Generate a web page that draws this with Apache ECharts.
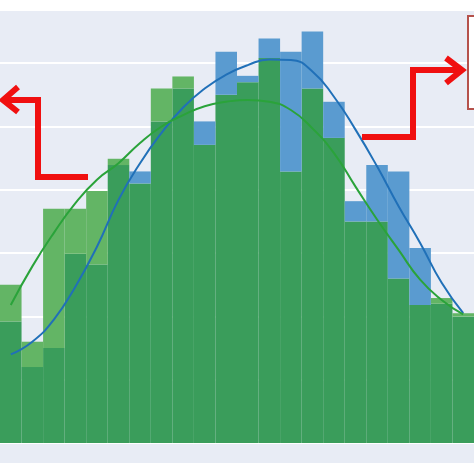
<!DOCTYPE html>
<html>
<head>
<meta charset="utf-8">
<script src="https://cdn.jsdelivr.net/npm/echarts@6/dist/echarts.min.js"></script>
<style>html,body{margin:0;padding:0;background:#fff}#chart{width:474px;height:474px}</style>
</head>
<body>
<div id="chart"></div>
<script>
// bins, heights (grid line = 10)
var bins = ['b0','b1','b2','b3','b4','b5','b6','b7','b8','b9','b10','b11','b12','b13','b14','b15','b16','b17','b18','b19','b20','b21'];
var blueBars = [19.2, 12, 15, 29.9, 28.2, 43.9, 42.9, 50.8, 56, 50.8, 61.8, 58, 63.9, 61.8, 65, 53.9, 38.2, 43.9, 42.9, 30.8, 22, 20];
var greenBars = [25, 16, 37, 37, 39.8, 44.9, 41, 56, 57.9, 47.1, 55, 57, 60.8, 42.9, 56, 48.2, 35, 35, 26, 21.8, 22.9, 20.5];
var blueCurve = [14, 16, 19.5, 24.7, 31, 38.4, 44.2, 49, 53, 56, 58.2, 59.7, 60.6, 60.5, 58.7, 54.7, 49.5, 43.7, 37.4, 31.6, 25.3, 20.5];
var greenCurve = [21.8, 27.9, 33.2, 37.9, 41.6, 44.2, 47.4, 50, 51.8, 53.2, 53.9, 54.2, 53.9, 52.6, 49.7, 45.8, 40.5, 35.3, 30.5, 25.8, 22.6, 20.3];

var overlap = blueBars.map(function (b, i) { return Math.min(b, greenBars[i]); });
var excess = blueBars.map(function (b, i) {
  var g = greenBars[i];
  return { value: Math.abs(b - g), itemStyle: { color: b > g ? '#5a9bd0' : '#63b565' } };
});

var chart = echarts.init(document.getElementById('chart'));
var red = '#f01010';
chart.setOption({
  animation: false,
  grid: { left: -12.3, width: 490.6, top: 10, bottom: 31, show: true, backgroundColor: '#e8ecf5', borderWidth: 0 },
  xAxis: { type: 'category', data: bins, axisLine: { show: false }, axisTick: { show: false }, axisLabel: { show: false } },
  yAxis: {
    type: 'value', min: 0, max: 68.4, interval: 10,
    axisLabel: { show: false }, axisLine: { show: false }, axisTick: { show: false },
    splitLine: { lineStyle: { color: '#ffffff', width: 2 } }
  },
  graphic: [
    { type: 'rect', z: -10, shape: { x: 0, y: 443, width: 474, height: 20 }, style: { fill: '#e8ecf5' } },
    { type: 'polyline', z: 100, shape: { points: [[88, 177], [38, 177], [38, 100], [4, 100]] }, style: { stroke: red, lineWidth: 6, fill: null } },
    { type: 'polyline', z: 100, shape: { points: [[18, 87], [3, 100], [18, 112]] }, style: { stroke: red, lineWidth: 6, fill: null } },
    { type: 'polyline', z: 100, shape: { points: [[362, 137], [413, 137], [413, 70], [462, 70]] }, style: { stroke: red, lineWidth: 6, fill: null } },
    { type: 'polyline', z: 100, shape: { points: [[446, 58], [462, 70], [446, 83]] }, style: { stroke: red, lineWidth: 6, fill: null } },
    { type: 'rect', z: 100, shape: { x: 468, y: 16, width: 10, height: 93 }, style: { stroke: '#b5524c', lineWidth: 2, fill: '#ffffff' } }
  ],
  series: [
    { type: 'bar', stack: 'h', data: overlap, barCategoryGap: '0%', itemStyle: { color: '#3a9d5b' } },
    { type: 'bar', stack: 'h', data: excess, barCategoryGap: '0%' },
    { type: 'line', data: blueCurve, smooth: true, symbol: 'none', lineStyle: { color: '#2070b8', width: 2 } },
    { type: 'line', data: greenCurve, smooth: true, symbol: 'none', lineStyle: { color: '#2aa33a', width: 2 } }
  ]
});
</script>
</body>
</html>
